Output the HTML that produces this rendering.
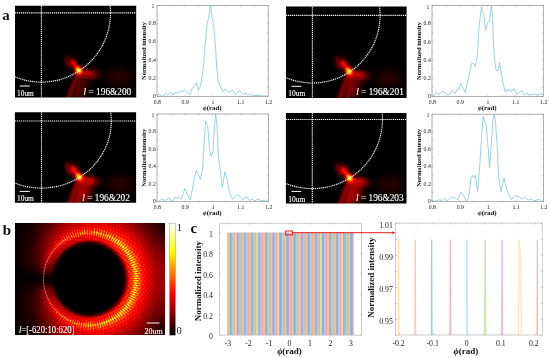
<!DOCTYPE html>
<html lang="en"><head><meta charset="utf-8"><title>Figure</title>
<style>
html,body{margin:0;padding:0;background:#fff;}
svg{display:block;font-family:"Liberation Serif",serif;}
.tk{font-size:5.8px;fill:#222;}
.tkc{font-size:7.8px;fill:#222;}
.yl{font-size:6.5px;font-weight:bold;fill:#111;}
.ylc{font-size:9px;font-weight:bold;fill:#111;}
.pl{font-size:15px;font-weight:bold;fill:#111;}
.w{fill:#fff;stroke:#fff;stroke-width:.12px;}
#wrap{position:relative;width:550px;height:358px;overflow:hidden;background:#fff;}
#wrap>svg{position:absolute;left:0;top:0;}
#pb{position:absolute;left:15px;top:223px;width:150px;height:112px;filter:url(#hotmap);
background:
 radial-gradient(circle at 74.6px 56px,#000 0,#000 33px,rgba(0,0,0,.8) 35px,rgba(0,0,0,0) 38px),
 linear-gradient(90deg,#484848 0,#787878 18px,#c8c8c8 31px,#fff 46px),
 repeating-radial-gradient(circle at 60px 8px,#fff 0,#d8d8d8 1.6px,#fff 3.2px),
 repeating-radial-gradient(circle at 60px 103px,#fff 0,#d8d8d8 1.6px,#fff 3.2px),
 conic-gradient(from 0deg at 74.6px 56px,#d1d1d1 0deg,#ffffff 40deg,#ffffff 140deg,#e0e0e0 180deg,#b2b2b2 215deg,#999999 240deg,#6b6b6b 256deg,#242424 264deg,#0a0a0a 270deg,#242424 276deg,#6b6b6b 284deg,#999999 300deg,#b2b2b2 325deg,#d1d1d1 360deg),
 radial-gradient(ellipse 92px 64px at 102px 56px,#4f4f4f 0,#454545 50%,#292929 76%,#000 100%),
 radial-gradient(circle at 74.6px 56px,#000000 0px,#000000 35.5px,#404040 37.5px,#7a7a7a 39.5px,#878787 50px,#737373 55px,#5e5e5e 60px,#454545 67px,#262626 77px,#0f0f0f 90px,#000000 100px),
 repeating-conic-gradient(from 0deg at 74.6px 56px,#fff 0deg,#999 1.44deg,#fff 2.88deg),
 radial-gradient(circle at 74.6px 56px,#000000 0px,#000000 33.5px,#1a1a1a 36.5px,#4c4c4c 38.5px,#808080 40.5px,#b2b2b2 43.5px,#fafafa 46.1px,#cccccc 48.5px,#9e9e9e 51.5px,#5c5c5c 54.5px,#000000 58.5px);
background-blend-mode:normal,multiply,multiply,multiply,multiply,lighten,lighten,multiply,normal;}

</style></head><body><div id="wrap"><div id="pb"></div>
<svg width="550" height="358" viewBox="0 0 550 358">
<defs>
<filter id="b1" x="-50%" y="-50%" width="200%" height="200%"><feGaussianBlur stdDeviation="0.8"/></filter>
<filter id="b2" x="-50%" y="-50%" width="200%" height="200%"><feGaussianBlur stdDeviation="1.6"/></filter>
<filter id="b3" x="-50%" y="-50%" width="200%" height="200%"><feGaussianBlur stdDeviation="3"/></filter>
<filter id="b5" x="-50%" y="-50%" width="200%" height="200%"><feGaussianBlur stdDeviation="5"/></filter>
<g id="glow1" fill="#fff" stroke="#fff">
 <ellipse cx="40" cy="7" rx="13" ry="9" stroke="none" opacity=".06" filter="url(#b5)"/>
 <ellipse cx="11" cy="2.2" rx="10" ry="2.8" stroke="none" opacity=".3" filter="url(#b3)" transform="rotate(6)"/>
 <path d="M2,1 L13,3" stroke-width="1.8" stroke-linecap="round" fill="none" opacity=".2" filter="url(#b2)"/>
 <path d="M1,2 L15,4 L9,24 L-9,28 Z" stroke="none" opacity=".06" filter="url(#b3)"/>
 <path d="M-1,1 C-3,8 -7,16 -11,30" stroke-width="3.6" fill="none" opacity=".2" filter="url(#b2)"/>
 <path d="M2,2 C1,10 -1,18 -3,30" stroke-width="3" fill="none" opacity=".13" filter="url(#b2)"/>
 <path d="M5,3 C6,10 5,18 3,30" stroke-width="2.4" fill="none" opacity=".08" filter="url(#b2)"/>
 <ellipse cx="-6.5" cy="-7.5" rx="7" ry="4.2" stroke="none" opacity=".12" filter="url(#b3)" transform="rotate(50 -6.5 -7.5)"/>
 <path d="M0,0 L-7,-9" stroke-width="3.6" stroke-linecap="round" fill="none" opacity=".38" filter="url(#b2)"/>
 <path d="M-8,-3 C-12.5,-6.5 -13.5,-11 -12.5,-15" stroke-width="3" fill="none" opacity=".12" filter="url(#b2)"/>
 <circle cx="0" cy="0" r="4.2" stroke="none" opacity=".38" filter="url(#b2)"/>
 <ellipse cx="-0.5" cy="-0.8" rx="1.9" ry="3.2" stroke="none" opacity=".32" filter="url(#b1)" transform="rotate(-38)"/>
 <circle cx="0" cy="0" r="1.15" stroke="none" opacity=".8" filter="url(#b1)"/>
</g>
<g id="glow2" fill="#fff" stroke="#fff">
 <ellipse cx="40" cy="7" rx="13" ry="9" stroke="none" opacity=".06" filter="url(#b5)"/>
 <ellipse cx="11" cy="2.2" rx="10" ry="2.8" stroke="none" opacity=".3" filter="url(#b3)" transform="rotate(6)"/>
 <path d="M2,1 L13,3" stroke-width="1.8" stroke-linecap="round" fill="none" opacity=".2" filter="url(#b2)"/>
 <path d="M1,2 L15,4 L9,24 L-9,28 Z" stroke="none" opacity=".13" filter="url(#b3)"/>
 <path d="M-1,1 C-3,8 -7,16 -11,30" stroke-width="3.6" fill="none" opacity=".2" filter="url(#b2)"/>
 <path d="M2,2 C1,10 -1,18 -3,30" stroke-width="3" fill="none" opacity=".13" filter="url(#b2)"/>
 <path d="M5,3 C6,10 5,18 3,30" stroke-width="2.4" fill="none" opacity=".08" filter="url(#b2)"/>
 <ellipse cx="-6.5" cy="-7.5" rx="7" ry="4.2" stroke="none" opacity=".2" filter="url(#b3)" transform="rotate(50 -6.5 -7.5)"/>
 <path d="M0,0 L-7,-9" stroke-width="3.6" stroke-linecap="round" fill="none" opacity=".38" filter="url(#b2)"/>
 <path d="M-8,-3 C-12.5,-6.5 -13.5,-11 -12.5,-15" stroke-width="3" fill="none" opacity=".12" filter="url(#b2)"/>
 <circle cx="0" cy="0" r="4.2" stroke="none" opacity=".38" filter="url(#b2)"/>
 <ellipse cx="-0.5" cy="-0.8" rx="1.9" ry="3.2" stroke="none" opacity=".32" filter="url(#b1)" transform="rotate(-38)"/>
 <circle cx="0" cy="0" r="1.15" stroke="none" opacity=".8" filter="url(#b1)"/>
</g>
<g id="glow3" fill="#fff" stroke="#fff">
 <ellipse cx="40" cy="7" rx="13" ry="9" stroke="none" opacity=".06" filter="url(#b5)"/>
 <ellipse cx="11" cy="2.2" rx="10" ry="2.8" stroke="none" opacity=".3" filter="url(#b3)" transform="rotate(6)"/>
 <path d="M2,1 L13,3" stroke-width="1.8" stroke-linecap="round" fill="none" opacity=".2" filter="url(#b2)"/>
 <path d="M1,2 L15,4 L9,24 L-9,28 Z" stroke="none" opacity=".2" filter="url(#b3)"/>
 <path d="M-1,1 C-3,8 -7,16 -11,30" stroke-width="3.6" fill="none" opacity=".2" filter="url(#b2)"/>
 <path d="M2,2 C1,10 -1,18 -3,30" stroke-width="3" fill="none" opacity=".13" filter="url(#b2)"/>
 <path d="M5,3 C6,10 5,18 3,30" stroke-width="2.4" fill="none" opacity=".08" filter="url(#b2)"/>
 <ellipse cx="-6.5" cy="-7.5" rx="7" ry="4.2" stroke="none" opacity=".24" filter="url(#b3)" transform="rotate(50 -6.5 -7.5)"/>
 <path d="M0,0 L-7,-9" stroke-width="3.6" stroke-linecap="round" fill="none" opacity=".38" filter="url(#b2)"/>
 <path d="M-8,-3 C-12.5,-6.5 -13.5,-11 -12.5,-15" stroke-width="3" fill="none" opacity=".12" filter="url(#b2)"/>
 <circle cx="0" cy="0" r="4.2" stroke="none" opacity=".38" filter="url(#b2)"/>
 <ellipse cx="-0.5" cy="-0.8" rx="1.9" ry="3.2" stroke="none" opacity=".32" filter="url(#b1)" transform="rotate(-38)"/>
 <circle cx="0" cy="0" r="1.15" stroke="none" opacity=".8" filter="url(#b1)"/>
</g>
<filter id="hotmap" color-interpolation-filters="sRGB" x="0" y="0" width="100%" height="100%"><feComponentTransfer><feFuncR type="linear" slope="2.667" intercept="0"/><feFuncG type="linear" slope="2.667" intercept="-1"/><feFuncB type="linear" slope="4" intercept="-3"/></feComponentTransfer></filter>
</defs>

<svg x="15.0" y="5.7" width="121.2" height="91.7" viewBox="15.0 5.7 121.2 91.7" overflow="hidden">
<g filter="url(#hotmap)"><rect x="-25.0" y="-34.3" width="201.2" height="171.7" fill="#000"/>
<use href="#glow1" x="79.0" y="70.5"/></g>
<line x1="15.0" y1="12.9" x2="136.2" y2="12.9" stroke="#fff" stroke-width="1.15" stroke-dasharray="1.2 0.75" fill="none" opacity=".97"/>
<line x1="41.4" y1="5.7" x2="41.4" y2="97.4" stroke="#fff" stroke-width="1.15" stroke-dasharray="1.2 0.75" fill="none" opacity=".97"/>
<ellipse cx="41.4" cy="12.9" rx="69.1" ry="69.2" stroke="#fff" stroke-width="1.15" stroke-dasharray="1.2 0.75" fill="none" opacity=".97"/>
<rect x="19.7" y="85.5" width="10.1" height="1" fill="#fff"/>
<text x="17.0" y="95.8" class="w" font-size="7.4">10um</text>
<text x="83.6" y="95.4" class="w" font-size="9.3"><tspan font-style="italic">l</tspan> = 196&amp;200</text>
</svg>
<svg x="286.0" y="6.5" width="120.6" height="91.4" viewBox="286.0 6.5 120.6 91.4" overflow="hidden">
<g filter="url(#hotmap)"><rect x="246.0" y="-33.5" width="200.6" height="171.4" fill="#000"/>
<use href="#glow2" x="349.4" y="71.5"/></g>
<line x1="286.0" y1="15.3" x2="406.6" y2="15.3" stroke="#fff" stroke-width="1.15" stroke-dasharray="1.2 0.75" fill="none" opacity=".97"/>
<line x1="312.4" y1="6.5" x2="312.4" y2="97.9" stroke="#fff" stroke-width="1.15" stroke-dasharray="1.2 0.75" fill="none" opacity=".97"/>
<ellipse cx="312.4" cy="15.3" rx="67.7" ry="67.7" stroke="#fff" stroke-width="1.15" stroke-dasharray="1.2 0.75" fill="none" opacity=".97"/>
<rect x="291.5" y="85.8" width="9.8" height="1" fill="#fff"/>
<text x="288.3" y="96.0" class="w" font-size="7.4">10um</text>
<text x="356.2" y="95.4" class="w" font-size="9.3"><tspan font-style="italic">l</tspan> = 196&amp;201</text>
</svg>
<svg x="14.9" y="112.2" width="121.2" height="90.6" viewBox="14.9 112.2 121.2 90.6" overflow="hidden">
<g filter="url(#hotmap)"><rect x="-25.1" y="72.2" width="201.2" height="170.6" fill="#000"/>
<use href="#glow3" x="79.5" y="177.1"/></g>
<line x1="14.9" y1="121.0" x2="136.1" y2="121.0" stroke="#fff" stroke-width="1.15" stroke-dasharray="1.2 0.75" fill="none" opacity=".97"/>
<line x1="41.5" y1="112.2" x2="41.5" y2="202.8" stroke="#fff" stroke-width="1.15" stroke-dasharray="1.2 0.75" fill="none" opacity=".97"/>
<ellipse cx="41.5" cy="121.0" rx="69.8" ry="67.1" stroke="#fff" stroke-width="1.15" stroke-dasharray="1.2 0.75" fill="none" opacity=".97"/>
<rect x="19.7" y="190.9" width="10.1" height="1" fill="#fff"/>
<text x="17.0" y="201.4" class="w" font-size="7.4">10um</text>
<text x="82.3" y="201.1" class="w" font-size="9.3"><tspan font-style="italic">l</tspan> = 196&amp;202</text>
</svg>
<svg x="285.9" y="113.0" width="120.6" height="90.6" viewBox="285.9 113.0 120.6 90.6" overflow="hidden">
<g filter="url(#hotmap)"><rect x="245.9" y="73.0" width="200.6" height="170.6" fill="#000"/>
<use href="#glow3" x="349.9" y="178.2"/></g>
<line x1="285.9" y1="119.5" x2="406.5" y2="119.5" stroke="#fff" stroke-width="1.15" stroke-dasharray="1.2 0.75" fill="none" opacity=".97"/>
<line x1="312.3" y1="113.0" x2="312.3" y2="203.6" stroke="#fff" stroke-width="1.15" stroke-dasharray="1.2 0.75" fill="none" opacity=".97"/>
<ellipse cx="312.3" cy="119.5" rx="70.2" ry="69.1" stroke="#fff" stroke-width="1.15" stroke-dasharray="1.2 0.75" fill="none" opacity=".97"/>
<rect x="291.5" y="190.9" width="9.8" height="1" fill="#fff"/>
<text x="288.3" y="201.6" class="w" font-size="7.4">10um</text>
<text x="356.0" y="200.8" class="w" font-size="9.3"><tspan font-style="italic">l</tspan> = 196&amp;203</text>
</svg>
<rect x="157.0" y="5.5" width="111.2" height="91.0" fill="#fff" stroke="#8c8c8c" stroke-width="0.7"/>
<path d="M157.0,96.5v-1.2M157.0,5.5v1.2M170.9,96.5v-1.2M170.9,5.5v1.2M184.8,96.5v-1.2M184.8,5.5v1.2M198.7,96.5v-1.2M198.7,5.5v1.2M212.6,96.5v-1.2M212.6,5.5v1.2M226.5,96.5v-1.2M226.5,5.5v1.2M240.4,96.5v-1.2M240.4,5.5v1.2M254.3,96.5v-1.2M254.3,5.5v1.2M268.2,96.5v-1.2M268.2,5.5v1.2M157.0,5.5h1.2M268.2,5.5h-1.2M157.0,14.6h1.2M268.2,14.6h-1.2M157.0,23.7h1.2M268.2,23.7h-1.2M157.0,32.8h1.2M268.2,32.8h-1.2M157.0,41.9h1.2M268.2,41.9h-1.2M157.0,51.0h1.2M268.2,51.0h-1.2M157.0,60.1h1.2M268.2,60.1h-1.2M157.0,69.2h1.2M268.2,69.2h-1.2M157.0,78.3h1.2M268.2,78.3h-1.2M157.0,87.4h1.2M268.2,87.4h-1.2M157.0,96.5h1.2M268.2,96.5h-1.2" stroke="#8c8c8c" stroke-width="0.5" fill="none"/>
<polyline points="157.0,95.4 159.1,94.2 161.2,96.0 163.3,96.2 165.4,93.3 167.5,95.0 170.3,92.4 173.1,95.0 175.9,92.2 178.0,93.6 181.0,90.5 182.8,91.7 184.7,90.5 187.0,91.9 189.8,94.7 191.9,88.9 194.7,85.6 196.5,82.8 198.5,90.5 200.3,86.3 202.4,75.2 203.8,62.6 204.8,48.0 205.6,40.0 207.0,23.5 208.4,18.9 210.5,5.6 212.1,18.2 213.7,26.5 215.7,49.0 216.7,68.4 218.4,81.8 220.1,86.0 223.1,91.9 225.4,89.0 229.3,92.7 232.1,89.7 235.1,94.4 239.3,90.7 243.2,94.4 246.0,93.2 248.9,95.2 250.6,94.4 253.6,95.7 258.6,95.4 263.6,96.0 268.2,95.9" fill="none" stroke="#74c0d8" stroke-width="0.72" stroke-linejoin="round"/>
<text x="157.4" y="103.6" class="tk" text-anchor="middle">0.8</text>
<text x="185.2" y="103.6" class="tk" text-anchor="middle">0.9</text>
<text x="213.0" y="103.6" class="tk" text-anchor="middle">1</text>
<text x="240.8" y="103.6" class="tk" text-anchor="middle">1.1</text>
<text x="268.6" y="103.6" class="tk" text-anchor="middle">1.2</text>
<text x="155.8" y="97.6" class="tk" text-anchor="end">0</text>
<text x="155.8" y="79.8" class="tk" text-anchor="end">0.2</text>
<text x="155.8" y="61.6" class="tk" text-anchor="end">0.4</text>
<text x="155.8" y="43.4" class="tk" text-anchor="end">0.6</text>
<text x="155.8" y="25.2" class="tk" text-anchor="end">0.8</text>
<text x="154.4" y="8.4" class="tk" text-anchor="end">1</text>
<text x="212.1" y="110.4" class="yl" style="font-size:6.9px" text-anchor="middle"><tspan font-style="italic">&#981;</tspan>(rad)</text>
<text transform="translate(146.4,51.0) rotate(-90)" class="yl" text-anchor="middle">Normalized intensity</text>
<rect x="432.0" y="5.6" width="111.3" height="90.9" fill="#fff" stroke="#8c8c8c" stroke-width="0.7"/>
<path d="M432.0,96.5v-1.2M432.0,5.6v1.2M445.9,96.5v-1.2M445.9,5.6v1.2M459.8,96.5v-1.2M459.8,5.6v1.2M473.7,96.5v-1.2M473.7,5.6v1.2M487.6,96.5v-1.2M487.6,5.6v1.2M501.6,96.5v-1.2M501.6,5.6v1.2M515.5,96.5v-1.2M515.5,5.6v1.2M529.4,96.5v-1.2M529.4,5.6v1.2M543.3,96.5v-1.2M543.3,5.6v1.2M432.0,5.6h1.2M543.3,5.6h-1.2M432.0,14.7h1.2M543.3,14.7h-1.2M432.0,23.8h1.2M543.3,23.8h-1.2M432.0,32.9h1.2M543.3,32.9h-1.2M432.0,42.0h1.2M543.3,42.0h-1.2M432.0,51.1h1.2M543.3,51.1h-1.2M432.0,60.1h1.2M543.3,60.1h-1.2M432.0,69.2h1.2M543.3,69.2h-1.2M432.0,78.3h1.2M543.3,78.3h-1.2M432.0,87.4h1.2M543.3,87.4h-1.2M432.0,96.5h1.2M543.3,96.5h-1.2" stroke="#8c8c8c" stroke-width="0.5" fill="none"/>
<polyline points="432.4,94.5 433.9,95.7 436.5,92.6 438.8,94.5 441.9,91.6 443.7,91.9 446.5,94.2 448.8,94.5 452.4,89.9 455.0,93.9 457.6,88.8 458.8,89.6 460.6,83.4 462.6,87.3 465.3,92.3 468.8,75.7 471.9,63.1 473.9,63.4 475.4,66.5 477.2,55.8 477.8,47.0 478.8,30.8 480.2,16.8 481.5,7.0 482.5,12.6 483.8,14.4 485.5,30.0 487.5,23.4 489.4,21.0 491.5,5.6 492.6,18.2 493.6,47.0 494.5,57.3 496.1,70.8 498.1,70.4 499.6,62.7 501.1,71.9 503.4,85.0 505.3,91.9 506.8,89.6 508.0,91.1 509.6,89.1 511.4,91.9 513.9,88.5 516.5,94.5 519.1,92.6 521.9,90.8 524.2,94.9 526.5,92.9 528.8,94.2 531.1,94.9 534.9,93.9 538.0,95.4 540.6,93.9 543.1,94.9" fill="none" stroke="#74c0d8" stroke-width="0.72" stroke-linejoin="round"/>
<text x="432.4" y="103.6" class="tk" text-anchor="middle">0.8</text>
<text x="460.2" y="103.6" class="tk" text-anchor="middle">0.9</text>
<text x="488.0" y="103.6" class="tk" text-anchor="middle">1</text>
<text x="515.9" y="103.6" class="tk" text-anchor="middle">1.1</text>
<text x="543.7" y="103.6" class="tk" text-anchor="middle">1.2</text>
<text x="430.8" y="97.6" class="tk" text-anchor="end">0</text>
<text x="430.8" y="79.8" class="tk" text-anchor="end">0.2</text>
<text x="430.8" y="61.6" class="tk" text-anchor="end">0.4</text>
<text x="430.8" y="43.5" class="tk" text-anchor="end">0.6</text>
<text x="430.8" y="25.3" class="tk" text-anchor="end">0.8</text>
<text x="429.4" y="8.5" class="tk" text-anchor="end">1</text>
<text x="487.1" y="110.4" class="yl" style="font-size:6.9px" text-anchor="middle"><tspan font-style="italic">&#981;</tspan>(rad)</text>
<text transform="translate(421.4,51.0) rotate(-90)" class="yl" text-anchor="middle">Normalized intensity</text>
<rect x="157.0" y="114.0" width="111.4" height="87.7" fill="#fff" stroke="#8c8c8c" stroke-width="0.7"/>
<path d="M157.0,201.7v-1.2M157.0,114.0v1.2M170.9,201.7v-1.2M170.9,114.0v1.2M184.8,201.7v-1.2M184.8,114.0v1.2M198.8,201.7v-1.2M198.8,114.0v1.2M212.7,201.7v-1.2M212.7,114.0v1.2M226.6,201.7v-1.2M226.6,114.0v1.2M240.5,201.7v-1.2M240.5,114.0v1.2M254.5,201.7v-1.2M254.5,114.0v1.2M268.4,201.7v-1.2M268.4,114.0v1.2M157.0,114.0h1.2M268.4,114.0h-1.2M157.0,122.8h1.2M268.4,122.8h-1.2M157.0,131.5h1.2M268.4,131.5h-1.2M157.0,140.3h1.2M268.4,140.3h-1.2M157.0,149.1h1.2M268.4,149.1h-1.2M157.0,157.8h1.2M268.4,157.8h-1.2M157.0,166.6h1.2M268.4,166.6h-1.2M157.0,175.4h1.2M268.4,175.4h-1.2M157.0,184.2h1.2M268.4,184.2h-1.2M157.0,192.9h1.2M268.4,192.9h-1.2M157.0,201.7h1.2M268.4,201.7h-1.2" stroke="#8c8c8c" stroke-width="0.5" fill="none"/>
<polyline points="156.9,201.3 158.7,201.3 161.3,199.5 165.4,200.4 169.1,197.7 171.8,201.3 175.1,197.1 176.9,198.6 178.1,196.8 181.2,199.5 184.9,188.6 187.2,194.0 190.3,200.0 193.6,182.2 196.3,170.4 198.1,174.1 200.5,179.5 202.7,167.7 203.3,157.0 204.7,133.0 205.8,121.1 206.9,124.4 207.7,125.7 209.5,150.0 211.2,156.0 213.1,151.0 214.5,126.0 215.8,114.2 216.9,125.0 218.4,155.0 219.9,168.1 222.4,187.2 224.9,171.8 227.1,179.0 229.5,192.6 232.2,199.0 234.9,196.8 237.6,194.1 240.9,197.5 243.4,199.9 245.3,197.5 247.1,197.2 249.4,200.4 252.5,199.3 254.9,200.8 258.0,199.0 261.2,200.8 264.8,200.4 267.6,200.1" fill="none" stroke="#74c0d8" stroke-width="0.72" stroke-linejoin="round"/>
<text x="157.4" y="209.0" class="tk" text-anchor="middle">0.8</text>
<text x="185.2" y="209.0" class="tk" text-anchor="middle">0.9</text>
<text x="213.1" y="209.0" class="tk" text-anchor="middle">1</text>
<text x="240.9" y="209.0" class="tk" text-anchor="middle">1.1</text>
<text x="268.8" y="209.0" class="tk" text-anchor="middle">1.2</text>
<text x="155.8" y="202.8" class="tk" text-anchor="end">0</text>
<text x="155.8" y="185.7" class="tk" text-anchor="end">0.2</text>
<text x="155.8" y="168.1" class="tk" text-anchor="end">0.4</text>
<text x="155.8" y="150.6" class="tk" text-anchor="end">0.6</text>
<text x="155.8" y="133.0" class="tk" text-anchor="end">0.8</text>
<text x="154.4" y="116.9" class="tk" text-anchor="end">1</text>
<text x="212.2" y="215.2" class="yl" style="font-size:6.9px" text-anchor="middle"><tspan font-style="italic">&#981;</tspan>(rad)</text>
<text transform="translate(146.4,157.8) rotate(-90)" class="yl" text-anchor="middle">Normalized intensity</text>
<rect x="432.0" y="114.2" width="111.5" height="87.5" fill="#fff" stroke="#8c8c8c" stroke-width="0.7"/>
<path d="M432.0,201.7v-1.2M432.0,114.2v1.2M445.9,201.7v-1.2M445.9,114.2v1.2M459.9,201.7v-1.2M459.9,114.2v1.2M473.8,201.7v-1.2M473.8,114.2v1.2M487.8,201.7v-1.2M487.8,114.2v1.2M501.7,201.7v-1.2M501.7,114.2v1.2M515.6,201.7v-1.2M515.6,114.2v1.2M529.6,201.7v-1.2M529.6,114.2v1.2M543.5,201.7v-1.2M543.5,114.2v1.2M432.0,114.2h1.2M543.5,114.2h-1.2M432.0,123.0h1.2M543.5,123.0h-1.2M432.0,131.7h1.2M543.5,131.7h-1.2M432.0,140.4h1.2M543.5,140.4h-1.2M432.0,149.2h1.2M543.5,149.2h-1.2M432.0,157.9h1.2M543.5,157.9h-1.2M432.0,166.7h1.2M543.5,166.7h-1.2M432.0,175.4h1.2M543.5,175.4h-1.2M432.0,184.2h1.2M543.5,184.2h-1.2M432.0,192.9h1.2M543.5,192.9h-1.2M432.0,201.7h1.2M543.5,201.7h-1.2" stroke="#8c8c8c" stroke-width="0.5" fill="none"/>
<polyline points="432.6,200.4 435.0,201.3 438.6,199.9 442.2,200.4 444.9,198.1 447.1,200.8 450.4,198.1 454.4,196.8 457.3,199.9 460.9,192.1 463.4,195.3 466.3,200.8 468.5,198.1 471.2,177.2 472.5,175.4 473.6,178.1 475.4,175.4 477.6,191.3 479.8,164.5 480.6,152.0 481.6,135.7 483.1,116.1 484.6,121.1 486.2,125.0 488.0,146.5 489.5,167.5 491.3,145.0 492.9,120.4 494.2,114.5 495.4,120.4 497.2,147.0 498.6,177.2 501.0,191.4 504.1,178.1 506.4,188.1 508.6,194.5 511.3,199.9 513.7,196.8 515.5,195.4 517.3,197.2 518.0,195.8 521.3,199.0 524.6,197.6 528.6,199.9 531.3,199.0 534.0,200.8 536.7,200.1 539.5,199.0 541.3,201.4 543.1,200.8" fill="none" stroke="#74c0d8" stroke-width="0.72" stroke-linejoin="round"/>
<text x="432.4" y="209.0" class="tk" text-anchor="middle">0.8</text>
<text x="460.3" y="209.0" class="tk" text-anchor="middle">0.9</text>
<text x="488.1" y="209.0" class="tk" text-anchor="middle">1</text>
<text x="516.0" y="209.0" class="tk" text-anchor="middle">1.1</text>
<text x="543.9" y="209.0" class="tk" text-anchor="middle">1.2</text>
<text x="430.8" y="202.8" class="tk" text-anchor="end">0</text>
<text x="430.8" y="185.7" class="tk" text-anchor="end">0.2</text>
<text x="430.8" y="168.2" class="tk" text-anchor="end">0.4</text>
<text x="430.8" y="150.7" class="tk" text-anchor="end">0.6</text>
<text x="430.8" y="133.2" class="tk" text-anchor="end">0.8</text>
<text x="429.4" y="117.1" class="tk" text-anchor="end">1</text>
<text x="487.2" y="215.2" class="yl" style="font-size:6.9px" text-anchor="middle"><tspan font-style="italic">&#981;</tspan>(rad)</text>
<text transform="translate(421.4,157.9) rotate(-90)" class="yl" text-anchor="middle">Normalized intensity</text>
<text x="2.2" y="19.6" class="pl">a</text>
<text x="2.8" y="234.6" class="pl">b</text>
<text x="190.6" y="232.8" class="pl">c</text>
<defs>
<radialGradient id="ring" gradientUnits="userSpaceOnUse" cx="89.6" cy="279.0" r="100">
<stop offset="0" stop-color="#000"/>
<stop offset="0.36" stop-color="#060000"/>
<stop offset="0.39" stop-color="#3a0000"/>
<stop offset="0.42" stop-color="#b00800"/>
<stop offset="0.445" stop-color="#ff3a00"/>
<stop offset="0.458" stop-color="#ff8a10"/>
<stop offset="0.475" stop-color="#ff3000"/>
<stop offset="0.52" stop-color="#e01000"/>
<stop offset="0.60" stop-color="#b00000"/>
<stop offset="0.70" stop-color="#7a0000"/>
<stop offset="0.85" stop-color="#3c0000"/>
<stop offset="1" stop-color="#140000"/>
</radialGradient>
<linearGradient id="hot" x1="0" y1="1" x2="0" y2="0">
<stop offset="0" stop-color="#000"/>
<stop offset="0.12" stop-color="#500000"/>
<stop offset="0.375" stop-color="#ff0000"/>
<stop offset="0.75" stop-color="#ffff00"/>
<stop offset="1" stop-color="#ffffff"/>
</linearGradient>
</defs>
<svg x="15.0" y="223.0" width="150.0" height="112.0" viewBox="15.0 223.0 150.0 112.0" overflow="hidden">
<defs><linearGradient id="spk" gradientUnits="userSpaceOnUse" x1="44" y1="0" x2="136" y2="0"><stop offset="0" stop-color="#ffdc40" stop-opacity="0.02"/><stop offset="0.25" stop-color="#ffdc40" stop-opacity="0.3"/><stop offset="0.55" stop-color="#ffdc40" stop-opacity="0.8"/><stop offset="1" stop-color="#ffe450" stop-opacity="1"/></linearGradient><filter id="b0" x="-10%" y="-10%" width="120%" height="120%"><feGaussianBlur stdDeviation="0.35"/></filter></defs>
<path d="M67.96,238.30 A46.1,46.1 0 0 0 67.96,319.70" fill="none" stroke="#ffd0d0" stroke-width="0.9" stroke-dasharray="1 0.5" opacity=".7"/>
<rect x="146.8" y="322.5" width="12.7" height="1" fill="#fff"/>
<text x="144.4" y="334.1" class="w" font-size="8">20um</text>
<text x="18.9" y="333.2" class="w" font-size="9.3" textLength="55.6" lengthAdjust="spacingAndGlyphs"><tspan font-style="italic">l</tspan>=[-620:10:620]</text>
</svg>
<rect x="169.5" y="223.3" width="6" height="111.9" fill="url(#hot)" stroke="#999" stroke-width="0.5"/>
<text x="176.8" y="231" font-size="10.6" fill="#222">1</text>
<text x="176.6" y="334.4" font-size="10.6" fill="#222">0</text>
<defs><pattern id="st" x="227.3" y="0" width="7.09" height="10" patternUnits="userSpaceOnUse">
<rect x="0" y="0" width="7.2" height="10" fill="#cdb8d6"/>
<rect x="0.9" y="0" width="1.8" height="10" fill="#f6c592"/>
<rect x="2.7" y="0" width="1.1" height="10" fill="#8cb4d4"/>
<rect x="3.8" y="0" width="1.0" height="10" fill="#d2aed4"/>
<rect x="4.8" y="0" width="0.5" height="10" fill="#b8d8ea"/>
<rect x="5.3" y="0" width="0.9" height="10" fill="#a0e4c0"/>
<rect x="6.2" y="0" width="0.9" height="10" fill="#e6aec6"/>
</pattern></defs>
<rect x="219.7" y="223.2" width="141.8" height="111.9" fill="#fff" stroke="#b4b4b4" stroke-width="0.7"/>
<g>
<rect x="227.3" y="232.7" width="126.4" height="102.1" fill="#cdb8d6"/>
<rect x="227.30" y="232.7" width="0.50" height="102.1" fill="#e6a8c0"/>
<rect x="227.80" y="232.7" width="2.00" height="102.1" fill="#f5c28c"/>
<rect x="229.80" y="232.7" width="1.50" height="102.1" fill="#8ab8d8"/>
<rect x="231.30" y="232.7" width="1.00" height="102.1" fill="#c4a4d4"/>
<rect x="232.30" y="232.7" width="1.40" height="102.1" fill="#a2e6c6"/>
<rect x="233.70" y="232.7" width="1.19" height="102.1" fill="#e6a8c0"/>
<rect x="234.89" y="232.7" width="2.00" height="102.1" fill="#f7d294"/>
<rect x="236.89" y="232.7" width="1.50" height="102.1" fill="#86b2d2"/>
<rect x="238.39" y="232.7" width="1.00" height="102.1" fill="#c4a4d4"/>
<rect x="239.39" y="232.7" width="1.40" height="102.1" fill="#9fe0d2"/>
<rect x="240.79" y="232.7" width="1.19" height="102.1" fill="#e6a8c0"/>
<rect x="241.98" y="232.7" width="2.00" height="102.1" fill="#f5c28c"/>
<rect x="243.98" y="232.7" width="1.50" height="102.1" fill="#8ab8d8"/>
<rect x="245.48" y="232.7" width="1.00" height="102.1" fill="#c4a4d4"/>
<rect x="246.48" y="232.7" width="1.40" height="102.1" fill="#a6e2cc"/>
<rect x="247.88" y="232.7" width="1.19" height="102.1" fill="#e6a8c0"/>
<rect x="249.07" y="232.7" width="2.00" height="102.1" fill="#f5c28c"/>
<rect x="251.07" y="232.7" width="1.50" height="102.1" fill="#86b2d2"/>
<rect x="252.57" y="232.7" width="1.00" height="102.1" fill="#c4a4d4"/>
<rect x="253.57" y="232.7" width="1.40" height="102.1" fill="#a2e6c6"/>
<rect x="254.97" y="232.7" width="1.19" height="102.1" fill="#e6a8c0"/>
<rect x="256.16" y="232.7" width="2.00" height="102.1" fill="#f7d294"/>
<rect x="258.16" y="232.7" width="1.50" height="102.1" fill="#8ab8d8"/>
<rect x="259.66" y="232.7" width="1.00" height="102.1" fill="#c4a4d4"/>
<rect x="260.66" y="232.7" width="1.40" height="102.1" fill="#9fe0d2"/>
<rect x="262.06" y="232.7" width="1.19" height="102.1" fill="#e6a8c0"/>
<rect x="263.25" y="232.7" width="2.00" height="102.1" fill="#f5c28c"/>
<rect x="265.25" y="232.7" width="1.50" height="102.1" fill="#86b2d2"/>
<rect x="266.75" y="232.7" width="1.00" height="102.1" fill="#c4a4d4"/>
<rect x="267.75" y="232.7" width="1.40" height="102.1" fill="#a6e2cc"/>
<rect x="269.15" y="232.7" width="1.19" height="102.1" fill="#e6a8c0"/>
<rect x="270.34" y="232.7" width="2.00" height="102.1" fill="#f5c28c"/>
<rect x="272.34" y="232.7" width="1.50" height="102.1" fill="#8ab8d8"/>
<rect x="273.84" y="232.7" width="1.00" height="102.1" fill="#c4a4d4"/>
<rect x="274.84" y="232.7" width="1.40" height="102.1" fill="#a2e6c6"/>
<rect x="276.24" y="232.7" width="1.19" height="102.1" fill="#e6a8c0"/>
<rect x="277.43" y="232.7" width="2.00" height="102.1" fill="#f7d294"/>
<rect x="279.43" y="232.7" width="1.50" height="102.1" fill="#86b2d2"/>
<rect x="280.93" y="232.7" width="1.00" height="102.1" fill="#c4a4d4"/>
<rect x="281.93" y="232.7" width="1.40" height="102.1" fill="#9fe0d2"/>
<rect x="283.33" y="232.7" width="1.19" height="102.1" fill="#e6a8c0"/>
<rect x="284.52" y="232.7" width="2.00" height="102.1" fill="#f5c28c"/>
<rect x="286.52" y="232.7" width="1.50" height="102.1" fill="#8ab8d8"/>
<rect x="288.02" y="232.7" width="1.00" height="102.1" fill="#c4a4d4"/>
<rect x="289.02" y="232.7" width="1.40" height="102.1" fill="#a6e2cc"/>
<rect x="290.42" y="232.7" width="1.19" height="102.1" fill="#e6a8c0"/>
<rect x="291.61" y="232.7" width="2.00" height="102.1" fill="#f5c28c"/>
<rect x="293.61" y="232.7" width="1.50" height="102.1" fill="#86b2d2"/>
<rect x="295.11" y="232.7" width="1.00" height="102.1" fill="#c4a4d4"/>
<rect x="296.11" y="232.7" width="1.40" height="102.1" fill="#a2e6c6"/>
<rect x="297.51" y="232.7" width="1.19" height="102.1" fill="#e6a8c0"/>
<rect x="298.70" y="232.7" width="2.00" height="102.1" fill="#f7d294"/>
<rect x="300.70" y="232.7" width="1.50" height="102.1" fill="#8ab8d8"/>
<rect x="302.20" y="232.7" width="1.00" height="102.1" fill="#c4a4d4"/>
<rect x="303.20" y="232.7" width="1.40" height="102.1" fill="#9fe0d2"/>
<rect x="304.60" y="232.7" width="1.19" height="102.1" fill="#e6a8c0"/>
<rect x="305.79" y="232.7" width="2.00" height="102.1" fill="#f5c28c"/>
<rect x="307.79" y="232.7" width="1.50" height="102.1" fill="#86b2d2"/>
<rect x="309.29" y="232.7" width="1.00" height="102.1" fill="#c4a4d4"/>
<rect x="310.29" y="232.7" width="1.40" height="102.1" fill="#a6e2cc"/>
<rect x="311.69" y="232.7" width="1.19" height="102.1" fill="#e6a8c0"/>
<rect x="312.88" y="232.7" width="2.00" height="102.1" fill="#f5c28c"/>
<rect x="314.88" y="232.7" width="1.50" height="102.1" fill="#8ab8d8"/>
<rect x="316.38" y="232.7" width="1.00" height="102.1" fill="#c4a4d4"/>
<rect x="317.38" y="232.7" width="1.40" height="102.1" fill="#a2e6c6"/>
<rect x="318.78" y="232.7" width="1.19" height="102.1" fill="#e6a8c0"/>
<rect x="319.97" y="232.7" width="2.00" height="102.1" fill="#f7d294"/>
<rect x="321.97" y="232.7" width="1.50" height="102.1" fill="#86b2d2"/>
<rect x="323.47" y="232.7" width="1.00" height="102.1" fill="#c4a4d4"/>
<rect x="324.47" y="232.7" width="1.40" height="102.1" fill="#9fe0d2"/>
<rect x="325.87" y="232.7" width="1.19" height="102.1" fill="#e6a8c0"/>
<rect x="327.06" y="232.7" width="2.00" height="102.1" fill="#f5c28c"/>
<rect x="329.06" y="232.7" width="1.50" height="102.1" fill="#8ab8d8"/>
<rect x="330.56" y="232.7" width="1.00" height="102.1" fill="#c4a4d4"/>
<rect x="331.56" y="232.7" width="1.40" height="102.1" fill="#a6e2cc"/>
<rect x="332.96" y="232.7" width="1.19" height="102.1" fill="#e6a8c0"/>
<rect x="334.15" y="232.7" width="2.00" height="102.1" fill="#f5c28c"/>
<rect x="336.15" y="232.7" width="1.50" height="102.1" fill="#86b2d2"/>
<rect x="337.65" y="232.7" width="1.00" height="102.1" fill="#c4a4d4"/>
<rect x="338.65" y="232.7" width="1.40" height="102.1" fill="#a2e6c6"/>
<rect x="340.05" y="232.7" width="1.19" height="102.1" fill="#e6a8c0"/>
<rect x="341.24" y="232.7" width="2.00" height="102.1" fill="#f7d294"/>
<rect x="343.24" y="232.7" width="1.50" height="102.1" fill="#8ab8d8"/>
<rect x="344.74" y="232.7" width="1.00" height="102.1" fill="#c4a4d4"/>
<rect x="345.74" y="232.7" width="1.40" height="102.1" fill="#9fe0d2"/>
<rect x="347.14" y="232.7" width="1.19" height="102.1" fill="#e6a8c0"/>
<rect x="348.33" y="232.7" width="2.00" height="102.1" fill="#f5c28c"/>
<rect x="350.33" y="232.7" width="1.50" height="102.1" fill="#86b2d2"/>
<rect x="351.83" y="232.7" width="1.00" height="102.1" fill="#c4a4d4"/>
<rect x="352.83" y="232.7" width="0.87" height="102.1" fill="#a6e2cc"/>
</g>
<path d="M228.9,335.1v-1.4M228.9,223.2v1.4M249.4,335.1v-1.4M249.4,223.2v1.4M269.9,335.1v-1.4M269.9,223.2v1.4M290.4,335.1v-1.4M290.4,223.2v1.4M310.9,335.1v-1.4M310.9,223.2v1.4M331.4,335.1v-1.4M331.4,223.2v1.4M351.9,335.1v-1.4M351.9,223.2v1.4M219.7,335.1h1.4M361.5,335.1h-1.4M219.7,314.7h1.4M361.5,314.7h-1.4M219.7,294.2h1.4M361.5,294.2h-1.4M219.7,273.8h1.4M361.5,273.8h-1.4M219.7,253.3h1.4M361.5,253.3h-1.4M219.7,232.9h1.4M361.5,232.9h-1.4" stroke="#999" stroke-width="0.5" fill="none"/>
<text x="227.9" y="346.2" class="tkc" text-anchor="middle">-3</text>
<text x="248.4" y="346.2" class="tkc" text-anchor="middle">-2</text>
<text x="268.9" y="346.2" class="tkc" text-anchor="middle">-1</text>
<text x="289.4" y="346.2" class="tkc" text-anchor="middle">0</text>
<text x="309.9" y="346.2" class="tkc" text-anchor="middle">1</text>
<text x="330.4" y="346.2" class="tkc" text-anchor="middle">2</text>
<text x="350.9" y="346.2" class="tkc" text-anchor="middle">3</text>
<text x="212.9" y="339.3" class="tkc" text-anchor="end">0</text>
<text x="212.9" y="318.6" class="tkc" text-anchor="end">0.2</text>
<text x="212.9" y="298.1" class="tkc" text-anchor="end">0.4</text>
<text x="212.9" y="277.6" class="tkc" text-anchor="end">0.6</text>
<text x="212.9" y="257.2" class="tkc" text-anchor="end">0.8</text>
<text x="212.9" y="236.8" class="tkc" text-anchor="end">1</text>
<text x="289.5" y="354" class="ylc" text-anchor="middle"><tspan font-style="italic">&#981;</tspan>(rad)</text>
<text transform="translate(200.9,281) rotate(-90)" class="ylc" text-anchor="middle">Normalized intensity</text>
<rect x="285.6" y="231" width="6.8" height="3.9" fill="none" stroke="#f01818" stroke-width="1"/>
<line x1="292.4" y1="232.7" x2="393" y2="232.7" stroke="#f01818" stroke-width="1"/>
<path d="M395.6,232.7 L392,231.2 L392.6,232.7 L392,234.2 Z" fill="#f01818"/>
<rect x="395.6" y="223.1" width="146.6" height="111.9" fill="#fff" stroke="#b4b4b4" stroke-width="0.7"/>
<path d="M398.35,239.8 L398.65,239.8 L398.95,335.0 L398.05,335.0 Z" fill="#fdf0d0" stroke="#f4cc74" stroke-width="0.45"/>
<path d="M415.00,239.8 L415.40,239.8 L415.70,335.0 L414.70,335.0 Z" fill="#fcdcd4" stroke="#f6a896" stroke-width="0.45"/>
<path d="M431.47,239.8 L431.93,239.8 L432.25,335.0 L431.15,335.0 Z" fill="#bcdcf2" stroke="#6cb2e0" stroke-width="0.45"/>
<path d="M450.10,239.8 L450.50,239.8 L450.80,335.0 L449.80,335.0 Z" fill="#f6c8d4" stroke="#e68aa4" stroke-width="0.45"/>
<path d="M466.67,239.8 L467.12,239.8 L467.50,335.0 L466.30,335.0 Z" fill="#d0f0fa" stroke="#8cd8f0" stroke-width="0.45"/>
<path d="M485.02,239.8 L485.38,239.8 L486.15,335.0 L484.25,335.0 Z" fill="#dcf0cc" stroke="#a6d088" stroke-width="0.45"/>
<path d="M501.93,239.8 L502.28,239.8 L502.60,335.0 L501.60,335.0 Z" fill="#e6ccf0" stroke="#c692da" stroke-width="0.45"/>
<path d="M537.12,239.8 L537.47,239.8 L537.75,335.0 L536.85,335.0 Z" fill="#fbd2c2" stroke="#f29474" stroke-width="0.45"/>
<path d="M518.7,239.8 L519.4,239.8 L519.8,247 L521.3,262 L521.6,335.0 L518.4,335.0 Z" fill="#fef6e2" stroke="#f5cf80" stroke-width="0.45"/>
<path d="M399.2,335.0v-1.4M399.2,223.1v1.4M416.2,335.0v-1.4M416.2,223.1v1.4M433.3,335.0v-1.4M433.3,223.1v1.4M450.4,335.0v-1.4M450.4,223.1v1.4M467.4,335.0v-1.4M467.4,223.1v1.4M484.4,335.0v-1.4M484.4,223.1v1.4M501.5,335.0v-1.4M501.5,223.1v1.4M518.5,335.0v-1.4M518.5,223.1v1.4M535.6,335.0v-1.4M535.6,223.1v1.4M395.6,223.5h1.4M542.2,223.5h-1.4M395.6,239.5h1.4M542.2,239.5h-1.4M395.6,255.5h1.4M542.2,255.5h-1.4M395.6,271.5h1.4M542.2,271.5h-1.4M395.6,287.5h1.4M542.2,287.5h-1.4M395.6,303.5h1.4M542.2,303.5h-1.4M395.6,319.5h1.4M542.2,319.5h-1.4M395.6,335.5h1.4M542.2,335.5h-1.4" stroke="#999" stroke-width="0.5" fill="none"/>
<text x="398.6" y="346.2" class="tkc" text-anchor="middle">-0.2</text>
<text x="432.7" y="346.2" class="tkc" text-anchor="middle">-0.1</text>
<text x="466.8" y="346.2" class="tkc" text-anchor="middle">0</text>
<text x="500.9" y="346.2" class="tkc" text-anchor="middle">0.1</text>
<text x="533.8" y="346.2" class="tkc" text-anchor="middle">0.2</text>
<text x="392.8" y="227.6" class="tkc" text-anchor="end">1.01</text>
<text x="392.8" y="259.6" class="tkc" text-anchor="end">0.99</text>
<text x="392.8" y="291.6" class="tkc" text-anchor="end">0.97</text>
<text x="392.8" y="323.6" class="tkc" text-anchor="end">0.95</text>
<text x="465.9" y="354" class="ylc" text-anchor="middle"><tspan font-style="italic">&#981;</tspan>(rad)</text>
<text transform="translate(374.0,277.6) rotate(-90)" class="ylc" text-anchor="middle">Normalized intensity</text>
</svg></div></body></html>
